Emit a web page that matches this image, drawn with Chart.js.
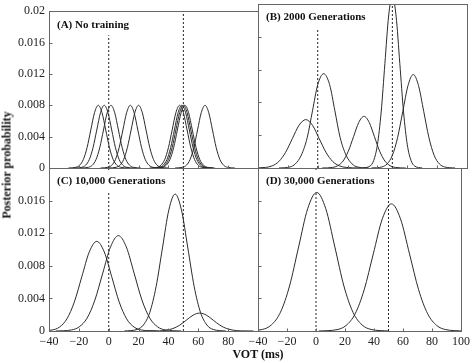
<!DOCTYPE html>
<html>
<head>
<meta charset="utf-8">
<script src="https://cdn.jsdelivr.net/npm/chart.js@4/dist/chart.umd.min.js"></script>
<style>
  body { margin: 0; background: #fff; }
  #wrap { position: relative; width: 474px; height: 363px; overflow: hidden; }
  canvas { position: absolute; }
  .axis-title { position: absolute; font: bold 12px "Liberation Serif", serif; color: #111; white-space: nowrap; }
  #ytitle { left: 7px; top: 165px; transform: translate(-50%, -50%) rotate(-90deg); }
  #xtitle { left: 258px; top: 354px; transform: translate(-50%, -50%); }
</style>
</head>
<body>
<div id="wrap">
  <canvas id="pA" width="262" height="180" style="left:0;top:0"></canvas>
  <canvas id="pB" width="244" height="180" style="left:230px;top:0"></canvas>
  <canvas id="pC" width="262" height="207" style="left:0;top:156px"></canvas>
  <canvas id="pD" width="244" height="207" style="left:230px;top:156px"></canvas>
  <div class="axis-title" id="ytitle">Posterior probability</div>
  <div class="axis-title" id="xtitle">VOT (ms)</div>
</div>
<script>
// axes
const votTicks = [-40, -20, 0, 20, 40, 60, 80, 100];
const probTicks = [0, 0.004, 0.008, 0.012, 0.016, 0.02];
const categoryBounds = [0, 50];
const panelLabels = ["(A) No training", "(B) 2000 Generations", "(C) 10,000 Generations", "(D) 30,000 Generations"];

// (A) no training - ten categories, same height
const noTrainingY = [0, 0.00009, 0.00035, 0.00108, 0.0026, 0.00485, 0.00706, 0.008, 0.00706, 0.00485, 0.0026, 0.00108, 0.00035, 0.00009, 0];
const noTrainingX = [
  [-27, -22, -19.5, -17, -14.5, -12, -9.5, -7, -4.5, -2, 0.5, 3, 5.5, 8, 13],
  [-23, -18, -15.5, -13, -10.5, -8, -5.5, -3, -0.5, 2, 4.5, 7, 9.5, 12, 17],
  [-18.5, -13.5, -11, -8.5, -6, -3.5, -1, 1.5, 4, 6.5, 9, 11.5, 14, 16.5, 21.5],
  [-5.5, -0.5, 2, 4.5, 7, 9.5, 12, 14.5, 17, 19.5, 22, 24.5, 27, 29.5, 34.5],
  [0, 5, 7.5, 10, 12.5, 15, 17.5, 20, 22.5, 25, 27.5, 30, 32.5, 35, 40],
  [27.5, 32.5, 35, 37.5, 40, 42.5, 45, 47.5, 50, 52.5, 55, 57.5, 60, 62.5, 67.5],
  [29, 34, 36.5, 39, 41.5, 44, 46.5, 49, 51.5, 54, 56.5, 59, 61.5, 64, 69],
  [30, 35, 37.5, 40, 42.5, 45, 47.5, 50, 52.5, 55, 57.5, 60, 62.5, 65, 70],
  [31, 36, 38.5, 41, 43.5, 46, 48.5, 51, 53.5, 56, 58.5, 61, 63.5, 66, 71],
  [44.5, 49.5, 52, 54.5, 57, 59.5, 62, 64.5, 67, 69.5, 72, 74.5, 77, 79.5, 84.5]
];

// (B) 2000 generations
const gen2000X = [
  [-44, -35, -30.5, -26, -21.5, -17, -12.5, -8, -3.5, 1, 5.5, 10, 14.5, 19, 28],
  [-26, -18.5, -15, -11, -7, -3.5, 0, 4, 8, 11.5, 15, 19, 23, 26.5, 34],
  [3, 10, 13.5, 17, 20.5, 24, 27.5, 31, 34.5, 38, 41.5, 45, 48.5, 52, 59],
  [30, 35, 37.5, 40, 42.5, 45, 47.5, 50, 52.5, 55, 57.5, 60, 62.5, 65, 70],
  [36, 43, 46.5, 50, 53.5, 57, 60.5, 64, 67.5, 71, 74.5, 78, 81.5, 85, 92]
];
const gen2000Y = [
  [0, 0.00007, 0.00026, 0.0008, 0.00192, 0.00358, 0.00521, 0.0059, 0.00521, 0.00358, 0.00192, 0.0008, 0.00026, 0.00007, 0],
  [0, 0.00013, 0.0005, 0.00156, 0.00373, 0.00697, 0.01015, 0.0115, 0.01015, 0.00697, 0.00373, 0.00156, 0.0005, 0.00013, 0],
  [0, 0.00007, 0.00028, 0.00085, 0.00205, 0.00382, 0.00556, 0.0063, 0.00556, 0.00382, 0.00205, 0.00085, 0.00028, 0.00007, 0],
  [0, 0.00023, 0.00092, 0.00284, 0.00682, 0.01274, 0.01853, 0.021, 0.01853, 0.01274, 0.00682, 0.00284, 0.00092, 0.00023, 0],
  [0, 0.00013, 0.0005, 0.00154, 0.0037, 0.00691, 0.01006, 0.0114, 0.01006, 0.00691, 0.0037, 0.00154, 0.0005, 0.00013, 0]
];

// (C) 10,000 generations
const gen10000X = [
  [-48, -38, -33, -28, -23, -18, -13, -8, -3, 2, 7, 12, 17, 22, 32],
  [-35.5, -25, -19.75, -14.5, -9.25, -4, 1.25, 6.5, 11.75, 17, 22.25, 27.5, 32.75, 38, 48.5],
  [10.5, 19, 23.25, 27.5, 31.75, 36, 40.25, 44.5, 48.75, 53, 57.25, 61.5, 65.75, 70, 78.5],
  [25, 34, 38.5, 43, 47.5, 52, 56.5, 61, 65.5, 70, 74.5, 79, 83.5, 88, 97]
];
const gen10000Y = [
  [0, 0.00012, 0.00048, 0.00149, 0.00357, 0.00667, 0.00971, 0.011, 0.00971, 0.00667, 0.00357, 0.00149, 0.00048, 0.00012, 0],
  [0, 0.00013, 0.00051, 0.00158, 0.0038, 0.0071, 0.01033, 0.0117, 0.01033, 0.0071, 0.0038, 0.00158, 0.00051, 0.00013, 0],
  [0, 0.00019, 0.00074, 0.00227, 0.00545, 0.01019, 0.01483, 0.0168, 0.01483, 0.01019, 0.00545, 0.00227, 0.00074, 0.00019, 0],
  [0, 0.00002, 0.0001, 0.0003, 0.00071, 0.00133, 0.00194, 0.0022, 0.00194, 0.00133, 0.00071, 0.0003, 0.0001, 0.00002, 0]
];

// (D) 30,000 generations
const gen30000X = [
  [-49.5, -37, -30.75, -24.5, -18.25, -12, -5.75, 0.5, 6.75, 13, 19.25, 25.5, 31.75, 38, 50.5],
  [2, 14.5, 20.75, 27, 33.25, 39.5, 45.75, 52, 58.25, 64.5, 70.75, 77, 83.25, 89.5, 102]
];
const gen30000Y = [
  [0, 0.00019, 0.00075, 0.0023, 0.00552, 0.01031, 0.015, 0.017, 0.015, 0.01031, 0.00552, 0.0023, 0.00075, 0.00019, 0],
  [0, 0.00017, 0.00068, 0.00211, 0.00507, 0.00946, 0.01377, 0.0156, 0.01377, 0.00946, 0.00507, 0.00211, 0.00068, 0.00017, 0]
];

const serif = "'Liberation Serif', 'Times New Roman', serif";

function fmt(v) {
  return String(v).replace("-", "\u2212");
}

function curveSets(xs, ys) {
  const sets = xs.map((xArr, i) => ({
    data: xArr.map((x, j) => ({ x: x, y: ys[i][j] })),
    borderColor: "#2b2b2b",
    borderWidth: 1,
    pointRadius: 0,
    cubicInterpolationMode: "monotone",
    fill: false,
  }));
  categoryBounds.forEach(b => {
    sets.push({
      data: [{ x: b, y: 0 }, { x: b, y: 0.02 }],
      borderColor: "#222",
      borderWidth: 1,
      borderDash: [2, 2],
      pointRadius: 0,
    });
  });
  return sets;
}

// frame, inward ticks and the panel label (white box hides the dotted line)
const panelDecor = {
  id: "panelDecor",
  afterDatasetsDraw(chart, args, opts) {
    const ctx = chart.ctx;
    const a = chart.chartArea;
    const xs = chart.scales.x;
    const ys = chart.scales.y;
    const left = Math.round(a.left) + 0.5;
    const top = Math.round(a.top) + 0.5;
    const right = Math.round(a.right) + 0.5;
    const bottom = Math.round(a.bottom) + 0.5;
    ctx.save();
    ctx.strokeStyle = "#666";
    ctx.lineWidth = 1;
    ctx.beginPath();
    probTicks.forEach(v => {
      const py = Math.round(ys.getPixelForValue(v)) + 0.5;
      ctx.moveTo(left, py);
      ctx.lineTo(left + 3, py);
    });
    votTicks.forEach(v => {
      const px = Math.round(xs.getPixelForValue(v)) + 0.5;
      ctx.moveTo(px, bottom);
      ctx.lineTo(px, bottom - 3);
    });
    ctx.stroke();
    ctx.strokeRect(left, top, right - left, bottom - top);

    ctx.font = "bold 11px " + serif;
    const w = ctx.measureText(opts.label).width;
    ctx.fillStyle = "#fff";
    ctx.fillRect(a.left + 5, a.top + 2, w + 6, 22);
    ctx.fillStyle = "#111";
    ctx.textBaseline = "middle";
    ctx.fillText(opts.label, a.left + 8, a.top + 13.5);
    ctx.restore();
  }
};

function makePanel(id, xs, ys, label, cfg) {
  new Chart(document.getElementById(id), {
    type: "line",
    data: { datasets: curveSets(xs, ys) },
    options: {
      responsive: false,
      animation: false,
      devicePixelRatio: 1,
      layout: { padding: cfg.padding, autoPadding: false },
      plugins: {
        legend: { display: false },
        tooltip: { enabled: false },
        panelDecor: { label: label },
      },
      scales: {
        x: {
          type: "linear",
          min: -40,
          max: 100,
          display: cfg.showX,
          afterBuildTicks: axis => { axis.ticks = votTicks.map(v => ({ value: v })); },
          afterFit: axis => { axis.height = cfg.showX ? 32 : 0; },
          grid: { display: false, drawTicks: false },
          border: { display: false },
          ticks: {
            padding: 4,
            maxRotation: 0,
            autoSkip: false,
            color: "#222",
            font: { family: serif, size: 12 },
            callback: v => (cfg.hideX100 && v === 100) ? "" : fmt(v),
          },
        },
        y: {
          min: 0,
          max: 0.02,
          display: cfg.showY,
          afterBuildTicks: axis => { axis.ticks = probTicks.map(v => ({ value: v })); },
          afterFit: axis => { axis.width = cfg.showY ? 49 : 0; },
          grid: { display: false, drawTicks: false },
          border: { display: false },
          ticks: {
            padding: 4,
            autoSkip: false,
            color: "#222",
            font: { family: serif, size: 12 },
            callback: v => (cfg.hideYTop && v === 0.02) ? "" : String(v),
          },
        },
      },
    },
    plugins: [panelDecor],
  });
}

makePanel("pA", noTrainingX, noTrainingX.map(() => noTrainingY), panelLabels[0],
  { padding: { top: 4, right: 4, bottom: 12, left: 0 }, showX: false, showY: true });
makePanel("pB", gen2000X, gen2000Y, panelLabels[1],
  { padding: { top: 4, right: 7, bottom: 12, left: 28 }, showX: false, showY: false });
makePanel("pC", gen10000X, gen10000Y, panelLabels[2],
  { padding: { top: 12, right: 4, bottom: 0, left: 0 }, showX: true, showY: true, hideX100: true, hideYTop: true });
makePanel("pD", gen30000X, gen30000Y, panelLabels[3],
  { padding: { top: 12, right: 7, bottom: 0, left: 28 }, showX: true, showY: false });
</script>
</body>
</html>
